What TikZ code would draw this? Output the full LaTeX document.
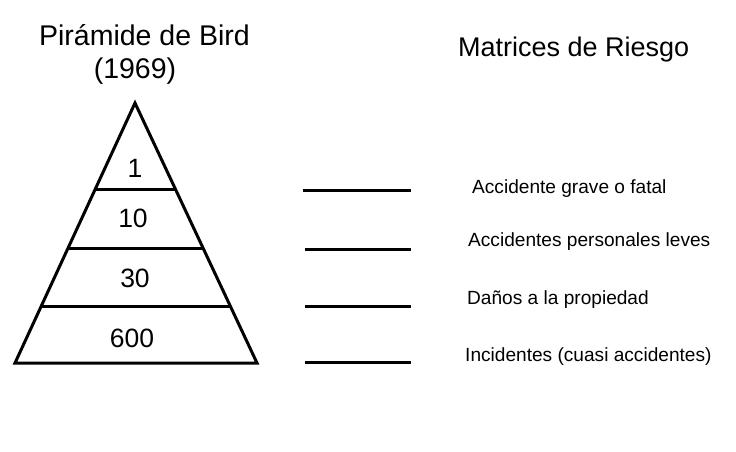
\documentclass[tikz,border=0pt]{standalone}
\usepackage{fontspec}
\setmainfont{Liberation Sans}
\usetikzlibrary{calc}
\begin{document}
\begin{tikzpicture}[x=1pt,y=-1pt,
  pyr/.style={line width=3pt,black},
  levelline/.style={line width=3pt,black},
  title/.style={anchor=base,inner sep=0pt,font=\fontsize{28.5}{30}\selectfont},
  num/.style={anchor=base,inner sep=0pt,font=\fontsize{26.5}{30}\selectfont},
  lbl/.style={anchor=base west,inner sep=0pt,font=\fontsize{19.1}{22}\selectfont}]
\useasboundingbox (0,0) rectangle (736,452);
% titles
\node[title] (t1) at (144.5,46) {Pirámide de Bird};
\node[title] (t2) at (135,78) {(1969)};
\node[title,anchor=base west,font=\fontsize{27}{30}\selectfont] (t3) at (458,57) {Matrices de Riesgo};
% pyramid
\coordinate (A) at (135,103);
\coordinate (BL) at (15,363);
\coordinate (BR) at (257,363);
\draw[pyr] (A) -- (BL) -- (BR) -- cycle;
\coordinate (L1) at ($(A)!0.3308!(BL)$);
\coordinate (R1) at ($(A)!0.3308!(BR)$);
\coordinate (L2) at ($(A)!0.5615!(BL)$);
\coordinate (R2) at ($(A)!0.5615!(BR)$);
\coordinate (L3) at ($(A)!0.7808!(BL)$);
\coordinate (R3) at ($(A)!0.7808!(BR)$);
\draw[pyr] (L1) -- (R1);
\draw[pyr] (L2) -- (R2);
\draw[pyr] (L3) -- (R3);
\node[num] (n1) at (135,177) {1};
\node[num] (n2) at (133,227) {10};
\node[num] (n3) at (135,287) {30};
\node[num] (n4) at (132,347) {600};
% lines
\coordinate (a1) at (303,190);
\coordinate (b1) at (411,190);
\coordinate (a2) at (305,249);
\coordinate (b2) at (411,249);
\coordinate (a3) at (305,306);
\coordinate (b3) at (411,306);
\coordinate (a4) at (305,362);
\coordinate (b4) at (411,362);
\draw[levelline] (a1) -- (b1);
\draw[levelline] (a2) -- (b2);
\draw[levelline] (a3) -- (b3);
\draw[levelline] (a4) -- (b4);
% labels
\node[lbl] (l1) at (472,193) {Accidente grave o fatal};
\node[lbl] (l2) at (468,246) {Accidentes personales leves};
\node[lbl] (l3) at (467,304) {Daños a la propiedad};
\node[lbl] (l4) at (465,361) {Incidentes (cuasi accidentes)};
\end{tikzpicture}
\end{document}
